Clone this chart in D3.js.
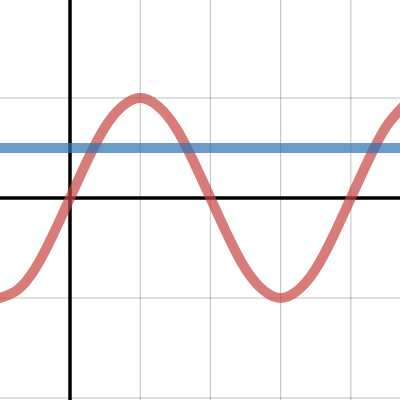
<!DOCTYPE html>
<html>
<head>
<meta charset="utf-8">
<script src="https://cdn.jsdelivr.net/npm/d3@7"></script>
<style>
  html, body { margin: 0; padding: 0; background: #fff; }
  svg { display: block; }
</style>
</head>
<body>
<script>
// x in units of pi/2, y in plain units
const xGridTicks = [0, 1, 2, 3, 4];
const yGridTicks = [-2, -1, 1];
const sineX = [-1, -0.75, -0.5, -0.25, 0, 0.25, 0.5, 0.75, 1, 1.25, 1.5, 1.75,
  2, 2.25, 2.5, 2.75, 3, 3.25, 3.5, 3.75, 4, 4.25, 4.5, 4.75];
const sineY = [-1, -0.92, -0.71, -0.38, 0, 0.38, 0.71, 0.92, 1, 0.92, 0.71, 0.38,
  0, -0.38, -0.71, -0.92, -1, -0.92, -0.71, -0.38, 0, 0.38, 0.71, 0.92];
const flatLevel = 0.5;

const width = 400, height = 400;

const x = d3.scaleLinear().domain([-0.997, 4.70]).range([0, width]);
const y = d3.scaleLinear().domain([-2.02, 1.98]).range([height, 0]);

const svg = d3.select("body").append("svg")
  .attr("width", width)
  .attr("height", height)
  .attr("viewBox", [0, 0, width, height]);

// grid
svg.append("g")
  .selectAll("line")
  .data(xGridTicks.filter(d => d !== 0))
  .join("line")
  .attr("x1", d => x(d)).attr("x2", d => x(d))
  .attr("y1", 0).attr("y2", height)
  .attr("stroke", "#000").attr("stroke-opacity", 0.25).attr("stroke-width", 1);

svg.append("g")
  .selectAll("line")
  .data(yGridTicks)
  .join("line")
  .attr("y1", d => y(d)).attr("y2", d => y(d))
  .attr("x1", 0).attr("x2", width)
  .attr("stroke", "#000").attr("stroke-opacity", 0.25).attr("stroke-width", 1);

// axes
svg.append("line")
  .attr("x1", x(0)).attr("x2", x(0)).attr("y1", 0).attr("y2", height)
  .attr("stroke", "#000").attr("stroke-width", 3.5);
svg.append("line")
  .attr("x1", 0).attr("x2", width).attr("y1", y(0)).attr("y2", y(0))
  .attr("stroke", "#000").attr("stroke-width", 3.5);

// sine curve
const points = sineX.map((d, i) => [d, sineY[i]]);
const line = d3.line()
  .x(d => x(d[0]))
  .y(d => y(d[1]))
  .curve(d3.curveNatural);

svg.append("path")
  .datum(points)
  .attr("fill", "none")
  .attr("stroke", "#c74440")
  .attr("stroke-opacity", 0.7)
  .attr("stroke-width", 10)
  .attr("stroke-linecap", "round")
  .attr("d", line);

// horizontal line
svg.append("line")
  .attr("x1", 0).attr("x2", width)
  .attr("y1", y(flatLevel)).attr("y2", y(flatLevel))
  .attr("stroke", "#2d70b3")
  .attr("stroke-opacity", 0.7)
  .attr("stroke-width", 10);
</script>
</body>
</html>
